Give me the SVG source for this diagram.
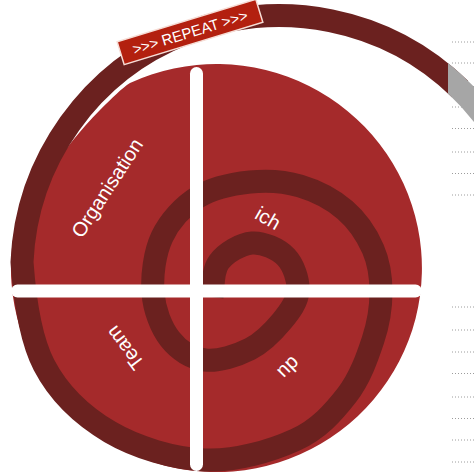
<svg xmlns="http://www.w3.org/2000/svg" width="474" height="474" viewBox="0 0 474 474">
  <style>
    .lbl { font-family: "Liberation Sans", Arial, sans-serif; font-size: 20px; fill: #ffffff; text-anchor: middle; dominant-baseline: central; }
    .tag { font-family: "Liberation Sans", Arial, sans-serif; font-size: 15px; fill: #ffffff; text-anchor: middle; dominant-baseline: central; }
    .band { fill: none; stroke: #6b211f; stroke-width: 23; stroke-linecap: butt; }
    .dots { stroke: #9c9c9c; stroke-width: 1; stroke-dasharray: 1 2; }
    .bar { fill: #ffffff; }
  </style>
  <defs>
    <clipPath id="tailclip"><rect x="448" y="0" width="40" height="200"/></clipPath>
  </defs>
  <rect width="474" height="474" fill="#ffffff"/>

  <g id="guides">
    <line class="dots" x1="452" y1="42" x2="474" y2="42"/>
    <line class="dots" x1="452" y1="63" x2="474" y2="63"/>
    <line class="dots" x1="452" y1="86.5" x2="474" y2="86.5"/>
    <line class="dots" x1="452" y1="107" x2="474" y2="107"/>
    <line class="dots" x1="452" y1="128.5" x2="474" y2="128.5"/>
    <line class="dots" x1="452" y1="152" x2="474" y2="152"/>
    <line class="dots" x1="452" y1="173.5" x2="474" y2="173.5"/>
    <line class="dots" x1="452" y1="195" x2="474" y2="195"/>
    <line class="dots" x1="452" y1="307" x2="474" y2="307"/>
    <line class="dots" x1="452" y1="330" x2="474" y2="330"/>
    <line class="dots" x1="452" y1="352" x2="474" y2="352"/>
    <line class="dots" x1="452" y1="373.5" x2="474" y2="373.5"/>
    <line class="dots" x1="452" y1="397" x2="474" y2="397"/>
    <line class="dots" x1="452" y1="418.5" x2="474" y2="418.5"/>
    <line class="dots" x1="452" y1="440" x2="474" y2="440"/>
    <line class="dots" x1="452" y1="462" x2="474" y2="462"/>
  </g>

  <g id="disc">
    <path d="M130 83 A205.5 204 0 1 1 18 215 C40 190 60 150 100 110 C112 98 122 88 130 83 Z" fill="#a52a2b"/>
  </g>

  <g id="connectors">
    <path class="band" d="M212 297 C213.5 285.7 212.3 271 219 262 C225.7 253 240.8 243.8 252 243 C263.2 242.2 278.3 249 286 257 C293.7 265 298.7 280.3 298 291 C297.3 301.7 290 311.3 282 321 C274 330.7 262.8 342.5 250 349 C237.2 355.5 218.3 361.7 205 360 C191.7 358.3 178.7 350.2 170 339 C161.3 327.8 154.3 310 153 293 C151.7 276 154.5 253 162 237 C169.5 221 183.3 206.2 198 197 C212.7 187.8 233 183.8 250 182 C267 180.2 284.2 181.3 300 186 C315.8 190.7 332.8 199.5 345 210 C357.2 220.5 367 235.3 373 249 C379 262.7 381 276.8 381 292 C381 307.2 378.7 322.8 373 340 C367.3 357.2 360 378.3 347 395 C334 411.7 318.7 429.5 295 440 C271.3 450.8 235.8 461.3 205 460 C174.2 458.7 136.8 447.8 110 432 C83.2 416.2 58.7 393.3 44 365 C29.3 336.7 24 289.5 22 262 A258 258 0 0 1 460 89"/>
    <path d="M430 63.8 A258 258 0 0 1 492 127" fill="none" stroke="#a6a6a6" stroke-width="23" clip-path="url(#tailclip)"/>
  </g>

  <g id="cross">
    <rect class="bar" x="190" y="67" width="13" height="404" rx="6.5"/>
    <rect class="bar" x="11" y="284.5" width="411" height="13" rx="6.5"/>
  </g>

  <g id="repeat-tag" transform="translate(190 32) rotate(-17)">
    <rect x="-72.5" y="-12" width="145" height="24" fill="#b3200f" stroke="#f6ddd6" stroke-width="1.5"/>
    <text class="tag" x="0" y="0">&gt;&gt;&gt; REPEAT &gt;&gt;&gt;</text>
  </g>

  <g id="label-organisation">
    <text class="lbl" transform="translate(107 188) rotate(-57)">Organisation</text>
  </g>
  <g id="label-ich">
    <text class="lbl" transform="translate(268 218) rotate(30)">ich</text>
  </g>
  <g id="label-du">
    <text class="lbl" transform="translate(289 368) rotate(135)">du</text>
  </g>
  <g id="label-team">
    <text class="lbl" transform="translate(125 348) rotate(-127)">Team</text>
  </g>
</svg>
